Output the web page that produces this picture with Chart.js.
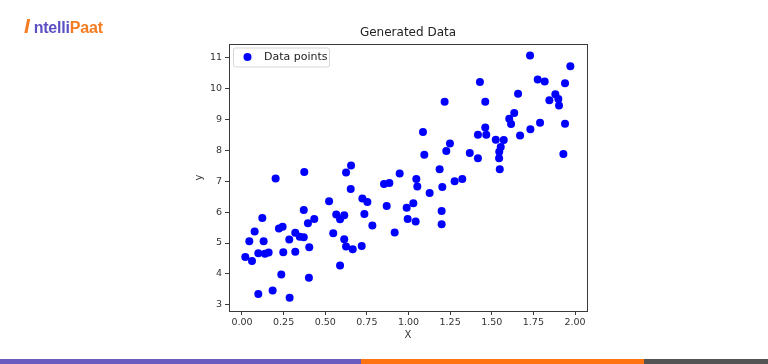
<!DOCTYPE html>
<html>
<head>
<meta charset="utf-8">
<script src="https://cdn.jsdelivr.net/npm/chart.js@4.4.1/dist/chart.umd.min.js"></script>
<style>
  html, body { margin: 0; padding: 0; background: #fff; }
  #wrap { position: relative; width: 768px; height: 364px; overflow: hidden; background: #fff; }
  #c { position: absolute; left: 0; top: 0; }
  #logo { position: absolute; left: 24px; top: 16px; font-family: "Liberation Sans", sans-serif; font-weight: bold; font-size: 16px; letter-spacing: -0.2px; line-height: 20px; }
  #logo .a { color: #f57c20; font-size: 21px; font-style: italic; margin-right: 4px; }
  #logo .b { color: #5b4fc4; }
  #logo .c { color: #f57c20; }
  .bar { position: absolute; top: 359px; height: 5px; }
</style>
</head>
<body>
<div id="wrap">
  <canvas id="c" width="768" height="364"></canvas>
  <div id="logo"><span class="a">I</span><span class="b">ntelli</span><span class="c">Paat</span></div>
  <div class="bar" style="left:0;width:361px;background:#6a5bc1"></div>
  <div class="bar" style="left:361px;width:283px;background:#ff7410"></div>
  <div class="bar" style="left:644px;width:124px;background:#545454"></div>
</div>
<script>
const xValues = [0.202,0.374,0.625,0.655,0.947,1.730,1.972,1.776,1.818,1.940,1.429,1.658,1.217,1.461,1.882,1.846,1.900,1.904,1.635,1.605,1.616,1.732,1.790,1.940,1.087,1.461,1.417,1.467,1.670,1.524,1.572,1.249,1.227,1.554,1.545,1.095,1.368,1.417,1.544,1.930,1.187,1.548,1.047,1.053,1.277,1.323,1.203,1.127,1.029,0.989,1.199,0.995,1.043,1.199,0.853,0.885,0.653,0.523,0.723,0.753,0.869,0.371,0.122,0.434,0.396,0.566,0.589,0.614,0.735,0.783,0.076,0.222,0.244,0.548,0.917,0.044,0.130,0.320,0.347,0.371,0.284,0.614,0.098,0.138,0.160,0.248,0.320,0.404,0.625,0.665,0.719,0.020,0.060,0.589,0.236,0.402,0.098,0.184,0.286];
const yValues = [7.09,7.30,7.28,7.51,7.25,11.07,10.72,10.29,10.23,10.17,10.21,9.83,9.57,9.57,9.81,9.62,9.66,9.45,9.21,9.02,8.85,8.68,8.89,8.86,8.59,8.74,8.50,8.50,8.48,8.34,8.33,8.22,7.98,8.11,7.95,7.86,7.91,7.74,7.74,7.88,7.39,7.39,7.07,6.83,7.00,7.07,6.81,6.62,6.29,6.14,6.04,5.78,5.70,5.61,6.91,6.94,6.75,6.35,6.44,6.33,6.20,6.07,5.81,5.78,5.64,5.92,5.77,5.90,5.94,5.57,5.37,5.47,5.53,5.32,5.34,5.06,5.06,5.33,5.20,5.19,5.11,5.12,4.67,4.65,4.69,4.70,4.72,4.86,4.89,4.80,4.90,4.55,4.42,4.27,3.98,3.88,3.35,3.46,3.23];
const xTicks = [0.00,0.25,0.50,0.75,1.00,1.25,1.50,1.75,2.00];
const yTicks = [3,4,5,6,7,8,9,10,11];
const seriesLabel = "Data points";
const chartTitle = "Generated Data";
const xTitle = "X";
const yTitle = "y";

const points = xValues.map((x, i) => ({ x: x, y: yValues[i] }));
const FONT = '"DejaVu Sans", sans-serif';
const TXT = '#333333';

const decor = {
  id: 'decor',
  afterDatasetsDraw(chart) {
    const ctx = chart.ctx;
    const a = chart.chartArea;
    ctx.save();
    ctx.strokeStyle = '#3a3a3a';
    ctx.lineWidth = 1;
    ctx.strokeRect(Math.round(a.left) + 0.5, Math.round(a.top) + 0.5, Math.round(a.right - a.left), Math.round(a.bottom - a.top));
    const cx = (a.left + a.right) / 2;
    ctx.fillStyle = '#222';
    ctx.textAlign = 'center';
    ctx.textBaseline = 'middle';
    ctx.font = '12px ' + FONT;
    ctx.fillText(chartTitle, cx, 33);
    ctx.font = '10px ' + FONT;
    ctx.fillStyle = TXT;
    ctx.fillText(xTitle, cx, 335);
    ctx.save();
    ctx.translate(199, (a.top + a.bottom) / 2);
    ctx.rotate(-Math.PI / 2);
    ctx.fillText(yTitle, 0, 0);
    ctx.restore();
    const lx = a.left + 4, ly = a.top + 3.5, lw = 96, lh = 19;
    ctx.beginPath();
    if (ctx.roundRect) ctx.roundRect(lx + 0.5, ly + 0.5, lw, lh, 2); else ctx.rect(lx + 0.5, ly + 0.5, lw, lh);
    ctx.fillStyle = 'rgba(255,255,255,0.85)';
    ctx.fill();
    ctx.strokeStyle = '#d6d6d6';
    ctx.stroke();
    ctx.beginPath();
    ctx.arc(lx + 14.5, ly + 9.5, 4, 0, Math.PI * 2);
    ctx.fillStyle = '#0000ff';
    ctx.fill();
    ctx.fillStyle = '#222';
    ctx.textAlign = 'left';
    ctx.font = '11px ' + FONT;
    ctx.fillText(seriesLabel, lx + 31, ly + 10);
    ctx.restore();
  }
};

new Chart(document.getElementById('c'), {
  type: 'scatter',
  data: {
    datasets: [{
      label: seriesLabel,
      data: points,
      backgroundColor: '#0000ff',
      borderColor: '#0000ff',
      borderWidth: 0,
      pointRadius: 4,
      pointHoverRadius: 4
    }]
  },
  options: {
    responsive: false,
    animation: false,
    events: [],
    layout: { padding: { left: 194, right: 181, top: 44, bottom: 33 } },
    plugins: {
      legend: { display: false },
      title: { display: false },
      tooltip: { enabled: false }
    },
    scales: {
      x: {
        type: 'linear',
        min: -0.078,
        max: 2.072,
        afterFit(s) { s.height = 20; },
        afterBuildTicks(s) { s.ticks = xTicks.map(v => ({ value: v })); },
        border: { display: false },
        grid: { drawOnChartArea: false, drawTicks: true, tickLength: 4, color: '#3a3a3a' },
        ticks: {
          padding: 2,
          color: TXT,
          font: { family: FONT, size: 9.5 },
          maxRotation: 0,
          autoSkip: false,
          callback: v => Number(v).toFixed(2)
        }
      },
      y: {
        type: 'linear',
        min: 2.8,
        max: 11.44,
        afterFit(s) { s.width = 35; },
        afterBuildTicks(s) { s.ticks = yTicks.map(v => ({ value: v })); },
        border: { display: false },
        grid: { drawOnChartArea: false, drawTicks: true, tickLength: 4, color: '#3a3a3a' },
        ticks: {
          padding: 3,
          color: TXT,
          font: { family: FONT, size: 9.5 },
          autoSkip: false,
          callback: v => String(v)
        }
      }
    }
  },
  plugins: [decor]
});
</script>
</body>
</html>
